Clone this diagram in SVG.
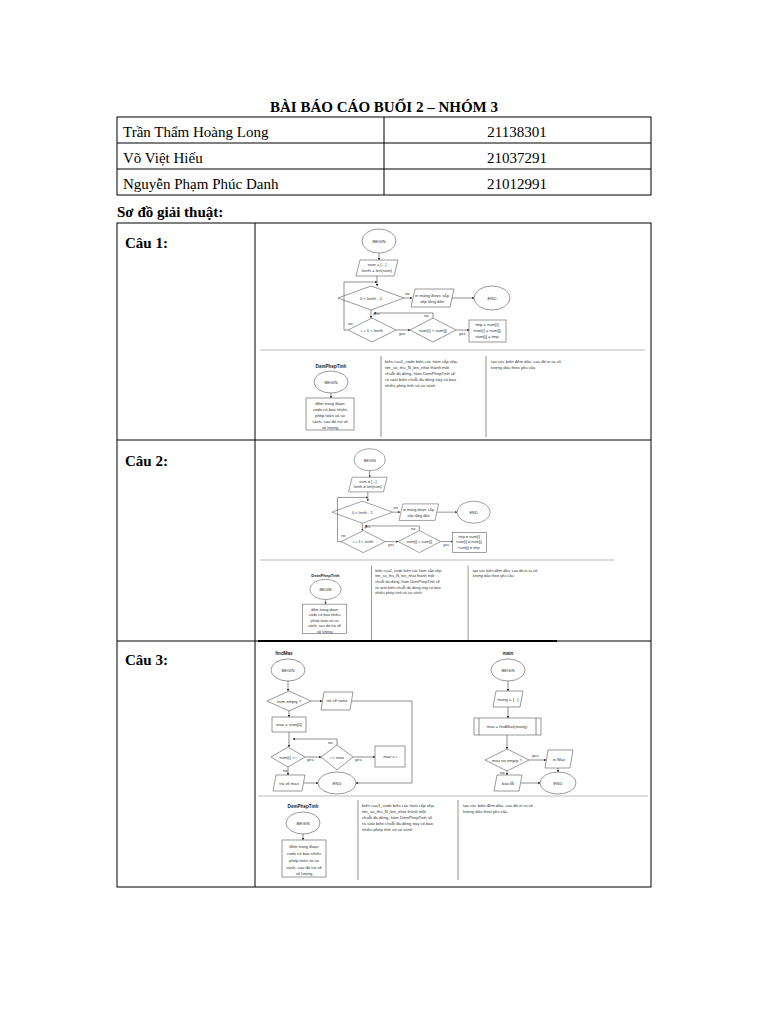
<svg xmlns="http://www.w3.org/2000/svg" width="768" height="1024" viewBox="0 0 768 1024">
<defs>
<marker id="a" markerWidth="4" markerHeight="4" refX="3.5" refY="2" orient="auto"><path d="M0,0L4,2L0,4z" fill="#333"/></marker>
</defs>
<style>
.doc{font-family:"Liberation Serif",serif;fill:#000}
.t{font-family:"Liberation Sans",Arial,sans-serif;font-size:4.2px;fill:#333}
.tb{font-family:"Liberation Sans",Arial,sans-serif;font-size:4.6px;font-weight:bold;fill:#222}
.s{fill:#fff;stroke:#555;stroke-width:0.6}
.c{fill:none;stroke:#444;stroke-width:0.6;marker-end:url(#a)}
.l{fill:none;stroke:#444;stroke-width:0.6}
.g{stroke:#bbb;stroke-width:1.2}
.tbl{fill:none;stroke:#000;stroke-width:1}
</style>
<rect width="768" height="1024" fill="#fff"/>
<g id="header">
<text class="doc" x="384" y="112" font-size="15" font-weight="bold" text-anchor="middle">BÀI BÁO CÁO BUỔI 2 – NHÓM 3</text>
<rect class="tbl" x="117" y="117" width="534" height="78"/>
<line class="tbl" x1="117" y1="143" x2="651" y2="143"/>
<line class="tbl" x1="117" y1="169" x2="651" y2="169"/>
<line class="tbl" x1="384" y1="117" x2="384" y2="195"/>
<text class="doc" x="123" y="137" font-size="15">Trần Thẩm Hoàng Long</text>
<text class="doc" x="517" y="137" font-size="15" text-anchor="middle">21138301</text>
<text class="doc" x="123" y="163" font-size="15">Võ Việt Hiếu</text>
<text class="doc" x="517" y="163" font-size="15" text-anchor="middle">21037291</text>
<text class="doc" x="123" y="189" font-size="15">Nguyễn Phạm Phúc Danh</text>
<text class="doc" x="517" y="189" font-size="15" text-anchor="middle">21012991</text>
<text class="doc" x="117" y="217" font-size="15" font-weight="bold">Sơ đồ giải thuật:</text>
</g>
<g id="main-table">
<rect class="tbl" x="117" y="223" width="534" height="664"/>
<line class="tbl" x1="255" y1="223" x2="255" y2="887"/>
<line class="tbl" x1="117" y1="440" x2="651" y2="440"/>
<line class="tbl" x1="117" y1="641" x2="651" y2="641"/>
<text class="doc" x="125" y="248" font-size="15" font-weight="bold">Câu 1:</text>
<text class="doc" x="125" y="466" font-size="15" font-weight="bold">Câu 2:</text>
<text class="doc" x="125" y="665" font-size="15" font-weight="bold">Câu 3:</text>
</g>
<g id="cau1">
<g id="c1-begin"><ellipse class="s" cx="379" cy="241" rx="17" ry="12"/><text class="t" x="379" y="243" text-anchor="middle">BEGIN</text></g>
<g id="c1-init"><polygon class="s" points="360,260 398,260 394,276 356,276"/><text class="t" x="377" y="266" text-anchor="middle">num = [...]</text><text class="t" x="377" y="272" text-anchor="middle">lenth = len(num)</text></g>
<g id="c1-d1"><polygon class="s" points="371,286 404,298 371,310 338,298"/><text class="t" x="371" y="300" text-anchor="middle">0 &lt; lenth - 1</text></g>
<g id="c1-out"><polygon class="s" points="415,289 454,289 450,307 411,307"/><text class="t" x="432" y="297" text-anchor="middle">in mảng được sắp</text><text class="t" x="432" y="303" text-anchor="middle">xếp tăng dần</text></g>
<g id="c1-end"><ellipse class="s" cx="492" cy="298" rx="18" ry="12"/><text class="t" x="492" y="300" text-anchor="middle">END</text></g>
<g id="c1-d2"><polygon class="s" points="372,318 396,330 372,342 348,330"/><text class="t" x="372" y="332" text-anchor="middle">i + 1 &lt; lenth</text></g>
<g id="c1-d3"><polygon class="s" points="433,318 456,330 433,342 410,330"/><text class="t" x="433" y="332" text-anchor="middle">num[i] &gt; num[j]</text></g>
<g id="c1-swap"><rect class="s" x="469" y="320" width="37" height="22"/><text class="t" x="487" y="326" text-anchor="middle">tmp = num[i]</text><text class="t" x="487" y="332" text-anchor="middle">num[i] = num[j]</text><text class="t" x="487" y="338" text-anchor="middle">num[j] = tmp</text></g>
<g id="c1-conn">
<path class="c" d="M379,253V260"/><path class="c" d="M377,276V286"/>
<path class="c" d="M404,298H412"/><text class="t" x="405" y="295" font-size="3">no</text>
<path class="c" d="M452,298H474"/>
<path class="c" d="M371,310V318"/><text class="t" x="373" y="315" font-size="3">yes</text>
<path class="c" d="M396,330H410"/><text class="t" x="399" y="335" font-size="3">yes</text>
<path class="c" d="M456,330H469"/><text class="t" x="459" y="335" font-size="3">yes</text>
<path class="c" d="M433,318V313H374"/><text class="t" x="424" y="317" font-size="3">no</text>
<path class="c" d="M348,330H344V282H377"/><text class="t" x="348" y="325" font-size="3">no</text>
</g>
<line class="g" x1="260" y1="350" x2="645" y2="350"/>
<g id="c1-dem">
<text class="tb" x="331" y="368" text-anchor="middle">DemPhepTinh</text>
<ellipse class="s" cx="331" cy="382" rx="17" ry="11"/><text class="t" x="331" y="384" text-anchor="middle">BEGIN</text>
<path class="c" d="M331,393V398"/>
<rect class="s" x="306" y="398" width="48" height="32"/>
<text class="t" x="330" y="405" text-anchor="middle">đếm trong đoạn</text><text class="t" x="330" y="411" text-anchor="middle">code có bao nhiêu</text><text class="t" x="330" y="417" text-anchor="middle">phép toán và so</text><text class="t" x="330" y="423" text-anchor="middle">sánh, sau đó trả về</text><text class="t" x="330" y="429" text-anchor="middle">số lượng</text>
</g>
<line class="l" x1="381" y1="356" x2="381" y2="437"/><line class="l" x1="486" y1="356" x2="486" y2="437"/>
<g id="c1-notes">
<text class="t" x="385" y="363">biến cau1_code biến các hàm sắp xếp,</text><text class="t" x="385" y="369">tim_so_thu_N_lon_nhat thành một</text><text class="t" x="385" y="375">chuỗi đa dòng, hàm DemPhepTinh sẽ</text><text class="t" x="385" y="381">rà soát biến chuỗi đa dòng này có bao</text><text class="t" x="385" y="387">nhiêu phép tính và so sánh</text>
<text class="t" x="491" y="363">tạo các biến đếm dấu, sau đó in ra số</text><text class="t" x="491" y="369">lượng dấu theo yêu cầu</text>
</g>
</g>
<g id="cau2" transform="translate(21,238) scale(0.92)">
<g id="c2-begin"><ellipse class="s" cx="379" cy="241" rx="17" ry="12"/><text class="t" x="379" y="243" text-anchor="middle">BEGIN</text></g>
<g id="c2-init"><polygon class="s" points="360,260 398,260 394,276 356,276"/><text class="t" x="377" y="266" text-anchor="middle">num = [...]</text><text class="t" x="377" y="272" text-anchor="middle">lenth = len(num)</text></g>
<g id="c2-d1"><polygon class="s" points="371,286 404,298 371,310 338,298"/><text class="t" x="371" y="300" text-anchor="middle">0 &lt; lenth - 1</text></g>
<g id="c2-out"><polygon class="s" points="415,289 454,289 450,307 411,307"/><text class="t" x="432" y="297" text-anchor="middle">in mảng được sắp</text><text class="t" x="432" y="303" text-anchor="middle">xếp tăng dần</text></g>
<g id="c2-end"><ellipse class="s" cx="492" cy="298" rx="18" ry="12"/><text class="t" x="492" y="300" text-anchor="middle">END</text></g>
<g id="c2-d2"><polygon class="s" points="372,318 396,330 372,342 348,330"/><text class="t" x="372" y="332" text-anchor="middle">i + 1 &lt; lenth</text></g>
<g id="c2-d3"><polygon class="s" points="433,318 456,330 433,342 410,330"/><text class="t" x="433" y="332" text-anchor="middle">num[i] &lt; num[j]</text></g>
<g id="c2-swap"><rect class="s" x="469" y="320" width="37" height="22"/><text class="t" x="487" y="326" text-anchor="middle">tmp = num[i]</text><text class="t" x="487" y="332" text-anchor="middle">num[i] = num[j]</text><text class="t" x="487" y="338" text-anchor="middle">num[j] = tmp</text></g>
<g id="c2-conn">
<path class="c" d="M379,253V260"/><path class="c" d="M377,276V286"/>
<path class="c" d="M404,298H412"/><text class="t" x="405" y="295" font-size="3">no</text>
<path class="c" d="M452,298H474"/>
<path class="c" d="M371,310V318"/><text class="t" x="373" y="315" font-size="3">yes</text>
<path class="c" d="M396,330H410"/><text class="t" x="399" y="335" font-size="3">yes</text>
<path class="c" d="M456,330H469"/><text class="t" x="459" y="335" font-size="3">yes</text>
<path class="c" d="M433,318V313H374"/><text class="t" x="424" y="317" font-size="3">no</text>
<path class="c" d="M348,330H344V282H377"/><text class="t" x="348" y="325" font-size="3">no</text>
</g>
<line class="g" x1="260" y1="350" x2="645" y2="350"/>
<g id="c2-dem">
<text class="tb" x="331" y="368" text-anchor="middle">DemPhepTinh</text>
<ellipse class="s" cx="331" cy="382" rx="17" ry="11"/><text class="t" x="331" y="384" text-anchor="middle">BEGIN</text>
<path class="c" d="M331,393V398"/>
<rect class="s" x="306" y="398" width="48" height="32"/>
<text class="t" x="330" y="405" text-anchor="middle">đếm trong đoạn</text><text class="t" x="330" y="411" text-anchor="middle">code có bao nhiêu</text><text class="t" x="330" y="417" text-anchor="middle">phép toán và so</text><text class="t" x="330" y="423" text-anchor="middle">sánh, sau đó trả về</text><text class="t" x="330" y="429" text-anchor="middle">số lượng</text>
</g>
<line class="l" x1="381" y1="356" x2="381" y2="437"/><line class="l" x1="486" y1="356" x2="486" y2="437"/>
<g id="c2-notes">
<text class="t" x="385" y="363">biến cau2_code biến các hàm sắp xếp,</text><text class="t" x="385" y="369">tim_so_thu_N_lon_nhat thành một</text><text class="t" x="385" y="375">chuỗi đa dòng, hàm DemPhepTinh sẽ</text><text class="t" x="385" y="381">rà soát biến chuỗi đa dòng này có bao</text><text class="t" x="385" y="387">nhiêu phép tính và so sánh</text>
<text class="t" x="491" y="363">tạo các biến đếm dấu, sau đó in ra số</text><text class="t" x="491" y="369">lượng dấu theo yêu cầu</text>
</g>
</g>
<line x1="258" y1="641" x2="557" y2="641" stroke="#000" stroke-width="2"/>
<g id="cau3">
<text class="tb" x="284" y="655" text-anchor="middle">findMax</text>
<g id="f-begin"><ellipse class="s" cx="288" cy="670" rx="17" ry="11"/><text class="t" x="288" y="672" text-anchor="middle">BEGIN</text></g>
<g id="f-d1"><polygon class="s" points="289,691 311,701 289,711 267,701"/><text class="t" x="289" y="703" text-anchor="middle">num empty ?</text></g>
<g id="f-none"><polygon class="s" points="324,692 353,692 350,710 321,710"/><text class="t" x="337" y="702" text-anchor="middle">trả về none</text></g>
<g id="f-max0"><rect class="s" x="272" y="717" width="34" height="15"/><text class="t" x="289" y="726" text-anchor="middle">max = num[0]</text></g>
<g id="f-d2"><polygon class="s" points="288,747 305,757 288,767 271,757"/><text class="t" x="288" y="759" text-anchor="middle">num[i] &gt; i</text></g>
<g id="f-d3"><polygon class="s" points="337,745 353,757 337,770 321,757"/><text class="t" x="337" y="759" text-anchor="middle">i &gt; max</text></g>
<g id="f-maxi"><rect class="s" x="375" y="746" width="30" height="21"/><text class="t" x="390" y="758" text-anchor="middle">max = i</text></g>
<g id="f-ret"><polygon class="s" points="276,775 305,775 302,791 273,791"/><text class="t" x="289" y="785" text-anchor="middle">trả về max</text></g>
<g id="f-end"><ellipse class="s" cx="337" cy="783" rx="19" ry="11"/><text class="t" x="337" y="785" text-anchor="middle">END</text></g>
<g id="f-conn">
<path class="c" d="M288,681V691"/><path class="c" d="M311,701H322"/><path class="c" d="M289,711V717"/>
<path class="c" d="M289,732V747"/><path class="c" d="M305,757H321"/><text class="t" x="307" y="761" font-size="3">yes</text>
<path class="c" d="M353,757H375"/><text class="t" x="355" y="761" font-size="3">yes</text>
<path class="c" d="M337,745V739H293"/><text class="t" x="328" y="744" font-size="3">no</text>
<path class="c" d="M288,767V775"/><text class="t" x="283" y="772" font-size="3">no</text>
<path class="c" d="M304,783H318"/>
<path class="c" d="M352,701H412V783H356"/>
</g>
<text class="tb" x="508" y="655" text-anchor="middle">main</text>
<g id="m-begin"><ellipse class="s" cx="508" cy="670" rx="17" ry="11"/><text class="t" x="508" y="672" text-anchor="middle">BEGIN</text></g>
<g id="m-arr"><polygon class="s" points="496,691 523,691 520,707 493,707"/><text class="t" x="508" y="701" text-anchor="middle">mang = [...]</text></g>
<g id="m-call"><rect class="s" x="474" y="718" width="67" height="17"/><line class="l" x1="479" y1="718" x2="479" y2="735"/><line class="l" x1="536" y1="718" x2="536" y2="735"/><text class="t" x="507" y="728" text-anchor="middle">max = findMax(mang)</text></g>
<g id="m-d"><polygon class="s" points="507,749 529,760 507,771 485,760"/><text class="t" x="507" y="762" text-anchor="middle">max no empty ?</text></g>
<g id="m-in"><polygon class="s" points="548,750 573,750 570,768 545,768"/><text class="t" x="559" y="761" text-anchor="middle">in Max</text></g>
<g id="m-err"><polygon class="s" points="497,775 522,775 519,791 494,791"/><text class="t" x="508" y="785" text-anchor="middle">báo lỗi</text></g>
<g id="m-end"><ellipse class="s" cx="558" cy="783" rx="18" ry="11"/><text class="t" x="558" y="785" text-anchor="middle">END</text></g>
<g id="m-conn">
<path class="c" d="M508,681V691"/><path class="c" d="M508,707V718"/><path class="c" d="M507,735V749"/>
<path class="c" d="M529,760H546"/><text class="t" x="532" y="757" font-size="3">yes</text>
<path class="c" d="M558,768V772"/>
<path class="c" d="M507,771V775"/><text class="t" x="500" y="774" font-size="3">no</text>
<path class="c" d="M521,783H540"/>
</g>
<line class="g" x1="258" y1="796" x2="648" y2="796"/>
<g id="c3-dem">
<text class="tb" x="303" y="808" text-anchor="middle">DemPhepTinh</text>
<ellipse class="s" cx="303" cy="823" rx="17" ry="11"/><text class="t" x="303" y="825" text-anchor="middle">BEGIN</text>
<path class="c" d="M303,834V840"/>
<rect class="s" x="282" y="840" width="44" height="37"/>
<text class="t" x="304" y="848" text-anchor="middle">đếm trong đoạn</text><text class="t" x="304" y="855" text-anchor="middle">code có bao nhiêu</text><text class="t" x="304" y="862" text-anchor="middle">phép toán và so</text><text class="t" x="304" y="869" text-anchor="middle">sánh, sau đó trả về</text><text class="t" x="304" y="875" text-anchor="middle">số lượng</text>
</g>
<line class="l" x1="358" y1="800" x2="358" y2="880"/><line class="l" x1="458" y1="800" x2="458" y2="880"/>
<g id="c3-notes">
<text class="t" x="362" y="807">biến cau3_code biến các hàm sắp xếp,</text><text class="t" x="362" y="813">tim_so_thu_N_lon_nhat thành một</text><text class="t" x="362" y="819">chuỗi đa dòng, hàm DemPhepTinh sẽ</text><text class="t" x="362" y="825">rà soát biến chuỗi đa dòng này có bao</text><text class="t" x="362" y="831">nhiêu phép tính và so sánh</text>
<text class="t" x="463" y="807">tạo các biến đếm dấu, sau đó in ra số</text><text class="t" x="463" y="813">lượng dấu theo yêu cầu</text>
</g>
</g>
</svg>
